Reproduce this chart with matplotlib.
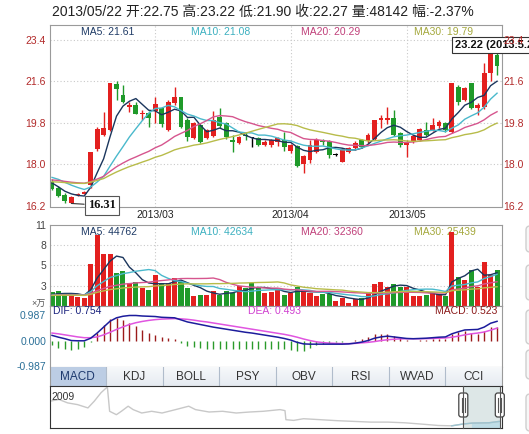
import matplotlib
matplotlib.use("Agg")
import matplotlib.pyplot as plt
from matplotlib.patches import FancyBboxPatch, Rectangle
from matplotlib.lines import Line2D
import numpy as np
import pandas as pd

plt.rcParams['font.family'] = ['Liberation Sans', 'Noto Sans CJK SC', 'DejaVu Sans']
plt.rcParams['axes.unicode_minus'] = False

# ---------------- data ----------------
last_date = "2013/05/22"
opens = [17.25, 16.97, 16.68, 16.35, 16.68, 16.74, 17.10, 18.66, 19.30, 19.50,
         21.50, 21.00, 20.51, 20.57, 20.18, 20.25, 20.30, 20.44, 19.50, 20.66,
         20.92, 19.93, 19.14, 19.71, 19.14, 19.25, 20.07, 19.79, 19.06, 18.95,
         19.30, 19.14, 19.14, 18.85, 18.85, 18.99, 19.06, 18.60, 18.80, 18.00,
         18.20, 18.55, 19.00, 19.00, 18.42, 18.12, 18.55, 18.70, 19.05, 19.00,
         19.10, 19.93, 19.93, 20.00, 19.35, 18.85, 19.00, 19.08, 19.50, 19.50,
         19.65, 19.80, 19.42, 21.37, 20.80, 21.52, 20.44, 20.50, 21.98, 22.75]
highs = [17.35, 17.05, 16.75, 16.62, 16.76, 16.84, 18.55, 19.62, 20.26, 21.55,
         21.60, 21.45, 20.73, 20.70, 20.38, 20.30, 20.94, 20.50, 20.80, 21.38,
         20.94, 20.00, 19.85, 19.75, 19.55, 20.30, 20.45, 19.83, 19.28, 19.25,
         19.42, 19.20, 19.20, 19.05, 19.10, 19.20, 19.42, 18.90, 18.85, 18.40,
         19.06, 19.15, 19.10, 19.05, 18.50, 18.72, 18.75, 19.00, 19.10, 19.35,
         19.95, 20.15, 20.49, 20.36, 19.40, 19.05, 19.30, 19.60, 19.86, 20.00,
         19.93, 19.85, 21.55, 21.45, 21.35, 21.55, 20.65, 22.40, 22.95, 23.22]
lows = [16.90, 16.60, 16.33, 16.31, 16.65, 16.72, 17.00, 18.60, 19.22, 19.45,
        20.80, 20.65, 20.29, 20.18, 19.93, 19.62, 19.80, 19.62, 19.45, 20.60,
        19.60, 19.03, 19.10, 18.95, 19.10, 19.20, 19.60, 19.10, 18.55, 18.88,
        19.06, 18.77, 18.80, 18.80, 18.75, 18.80, 18.60, 18.50, 17.90, 17.62,
        18.05, 18.50, 18.85, 18.27, 18.35, 18.10, 18.50, 18.62, 18.72, 18.95,
        19.05, 19.60, 19.75, 19.25, 18.75, 18.34, 18.95, 19.00, 19.25, 19.45,
        19.60, 19.40, 19.35, 20.60, 20.75, 20.40, 20.15, 20.40, 21.60, 21.90]
closes = [16.94, 16.65, 16.40, 16.58, 16.73, 16.80, 18.55, 19.55, 19.60, 21.52,
          21.27, 20.73, 20.60, 20.18, 20.25, 20.00, 20.61, 19.74, 20.72, 20.92,
          19.62, 19.20, 19.79, 18.99, 19.50, 19.95, 19.68, 19.20, 18.99, 19.20,
          19.25, 19.14, 18.85, 18.99, 19.06, 19.14, 18.77, 18.85, 17.95, 18.37,
          18.85, 19.06, 18.97, 18.41, 18.42, 18.68, 18.70, 18.95, 18.77, 19.28,
          19.93, 20.02, 20.00, 19.28, 18.85, 18.99, 19.25, 19.52, 19.30, 19.72,
          19.83, 19.50, 21.52, 20.72, 21.30, 20.44, 20.56, 21.98, 22.81, 22.27]
volumes_wan = [1.90, 2.04, 1.59, 1.32, 1.22, 1.00, 5.67, 9.62, 7.03, 7.03,
               4.40, 4.72, 3.05, 3.18, 2.36, 2.14, 4.18, 3.13, 3.05, 3.81,
               3.27, 2.36, 1.36, 1.46, 1.46, 2.04, 1.46, 2.04, 1.77, 2.68,
               2.45, 3.05, 2.45, 1.77, 1.90, 2.14, 1.46, 1.69, 2.59, 2.00,
               1.77, 1.36, 1.59, 1.55, 0.64, 1.09, 0.41, 0.91, 1.09, 1.82,
               2.91, 3.18, 2.50, 2.91, 2.50, 2.59, 1.36, 1.36, 1.46, 1.69,
               1.59, 1.36, 10.07, 3.86, 3.50, 4.86, 2.59, 5.95, 4.18, 4.81]
# closes / volumes just before the visible window, estimated from the MA levels at the left edge
pre_closes = [17.0, 17.1, 17.2, 17.05, 16.95, 17.0, 17.15, 17.2, 17.1, 17.15,
              17.1, 17.2, 17.3, 17.25, 17.15, 17.2, 17.3, 17.25, 17.2, 17.25,
              17.5, 17.7, 17.8, 17.75, 17.65, 17.5, 17.35, 17.15, 17.06]
pre_volumes_wan = [1.4, 1.2, 1.5, 1.3, 1.6, 1.4, 1.2, 1.3, 1.5, 1.4,
                   1.3, 1.2, 1.4, 1.5, 1.3, 1.2, 1.4, 1.3, 1.5, 1.4,
                   1.6, 1.5, 1.3, 1.4, 1.2, 1.5, 1.4, 1.3, 1.5]
ma_periods = [5, 10, 20, 30]
price_ma_last = [21.61, 21.08, 20.29, 19.79]
volume_ma_last = [44762, 42634, 32360, 25439]
last_volume = 48142
change_pct = -2.37
dif = [0.21, 0.14, 0.08, 0.01, 0.00, 0.00, 0.10, 0.30, 0.53, 0.76,
       0.89, 0.95, 0.98, 0.98, 0.96, 0.95, 0.94, 0.91, 0.90, 0.89,
       0.81, 0.73, 0.68, 0.63, 0.58, 0.53, 0.49, 0.45, 0.41, 0.37,
       0.33, 0.30, 0.26, 0.22, 0.18, 0.14, 0.09, 0.03, -0.06, -0.12,
       -0.13, -0.13, -0.13, -0.13, -0.13, -0.13, -0.12, -0.09, -0.05, 0.01,
       0.10, 0.15, 0.18, 0.15, 0.12, 0.09, 0.08, 0.09, 0.10, 0.12,
       0.14, 0.15, 0.27, 0.35, 0.42, 0.43, 0.44, 0.53, 0.68, 0.754]
dea = [0.30, 0.27, 0.23, 0.19, 0.15, 0.12, 0.12, 0.15, 0.23, 0.33,
       0.44, 0.54, 0.63, 0.70, 0.75, 0.79, 0.82, 0.84, 0.85, 0.86,
       0.85, 0.83, 0.80, 0.76, 0.73, 0.69, 0.65, 0.61, 0.57, 0.53,
       0.49, 0.45, 0.41, 0.37, 0.33, 0.29, 0.25, 0.20, 0.14, 0.07,
       0.01, -0.04, -0.07, -0.09, -0.10, -0.11, -0.11, -0.10, -0.08, -0.06,
       -0.03, 0.01, 0.04, 0.06, 0.075, 0.08, 0.08, 0.08, 0.085, 0.09,
       0.10, 0.11, 0.14, 0.18, 0.23, 0.27, 0.30, 0.34, 0.41, 0.493]
macd_last = 0.523
month_labels = ["2013/03", "2013/04", "2013/05"]
month_first_index = [16, 37, 55]
price_ticks = [16.2, 18.0, 19.8, 21.6, 23.4]
volume_axis_max = 10.98
macd_tick = 0.987
indicator_tabs = ["MACD", "KDJ", "BOLL", "PSY", "OBV", "RSI", "WVAD", "CCI"]
nav_start_label = "2009"
nav_t = [0.001, 0.021, 0.040, 0.062, 0.085, 0.099, 0.114, 0.122, 0.128, 0.131,
         0.133, 0.148, 0.159, 0.174, 0.185, 0.204, 0.226, 0.249, 0.279, 0.308,
         0.323, 0.353, 0.383, 0.413, 0.443, 0.473, 0.510, 0.521, 0.523, 0.540,
         0.562, 0.599, 0.637, 0.674, 0.711, 0.749, 0.786, 0.823, 0.860, 0.890,
         0.914, 0.935, 0.972, 0.995]
nav_level = [63.8, 67.9, 59.8, 55.7, 47.8, 63.8, 84.0, 91.9, 97.6, 63.8,
             39.8, 31.7, 39.8, 51.9, 43.8, 35.7, 39.8, 35.7, 43.8, 51.9,
             43.8, 38.1, 39.8, 35.7, 38.1, 39.8, 43.8, 41.4, 19.8, 18.1,
             22.1, 19.8, 17.4, 15.7, 14.0, 14.0, 12.4, 9.3, 6.0, 5.2,
             9.3, 11.7, 12.4, 15.7]

# ---------------- style ----------------
RED = '#e3201f'
GREEN = '#1f9a2a'
MA_COLORS = ['#1b365d', '#4ab9cc', '#d6558e', '#b8bc4a']
MA_TEXT = ['#1f3b66', '#3cb0c0', '#c0407a', '#a4a83c']
GRID = dict(color='#c9c9c9', lw=0.8, ls=(0, (1, 2)))
SPINE = '#9a9a9a'

W, H = 529, 434
fig = plt.figure(figsize=(W / 100, H / 100), dpi=100)


def rect(x0, y0, x1, y1):
    return [x0 / W, 1 - y1 / H, (x1 - x0) / W, (y1 - y0) / H]


L, R = 49.5, 501.5
ax = fig.add_axes(rect(L, 25, R, 206.5))
axv = fig.add_axes(rect(L, 225, R, 305.7))
axm = fig.add_axes(rect(L, 305.7, R, 366.5))
axt = fig.add_axes(rect(L, 366.5, R, 386))
axn = fig.add_axes(rect(L, 386, R, 428))

n = len(closes)
idx = np.arange(n)
o = np.array(opens); c = np.array(closes); h = np.array(highs); lo = np.array(lows)
xlim = (-0.39, n - 0.31)

candle_colors = [RED if cc > oo else (GREEN if cc < oo else 'black') for oo, cc in zip(o, c)]
prev_close = np.concatenate([[pre_closes[-1]], c[:-1]])
vol_colors = []
for oo, cc, pc in zip(o, c, prev_close):
    if cc > oo:
        vol_colors.append(RED)
    elif cc < oo:
        vol_colors.append(GREEN)
    else:
        vol_colors.append(RED if cc >= pc else GREEN)

# ---------------- main price chart ----------------
ax.set_xlim(*xlim)
ax.set_ylim(16.2 - 0.5 / 23.06, 23.4 + 15 / 23.06)
for t in price_ticks[1:]:
    ax.axhline(t, zorder=0.5, **GRID)
for m in month_first_index:
    ax.axvline(m, zorder=0.5, **GRID)
ax.vlines(idx, lo, h, colors=candle_colors, lw=1, zorder=2)
ax.bar(idx, np.maximum(np.abs(c - o), 0.045), bottom=np.minimum(o, c), width=0.75,
       color=candle_colors, lw=0, zorder=2.1)
all_c = pd.Series(pre_closes + closes)
for p, col in zip(ma_periods, MA_COLORS):
    ma = all_c.rolling(p).mean().iloc[len(pre_closes):].to_numpy()
    ax.plot(idx, ma, color=col, lw=1, zorder=3)
ma_label_x = [0.07, 0.313, 0.557, 0.806]
for k, (p, v) in enumerate(zip(ma_periods, price_ma_last)):
    ax.text(ma_label_x[k], 0.961, f"MA{p}: {v:.2f}", transform=ax.transAxes,
            fontsize=7.5, color=MA_TEXT[k], va='center', ha='left')
ax.set_yticks(price_ticks)
ax.set_yticklabels([f"{t:.1f}" for t in price_ticks])
ax.tick_params(axis='y', length=0, labelsize=7.5, labelcolor='#b22a2a', pad=2.5)
ax.set_xticks(month_first_index)
ax.set_xticklabels(month_labels)
ax.tick_params(axis='x', length=0, labelsize=7.5, labelcolor='#222222', pad=2.5)
for s in ax.spines.values():
    s.set_color(SPINE)

# low annotation
imin = int(np.argmin(lo))
ax.annotate(f"{lo[imin]:.2f}", xy=(imin, lo[imin]), xytext=(12, -1.3), textcoords='offset points',
            ha='left', va='center', fontsize=9, fontweight='bold', family='Liberation Serif',
            color='#111111', annotation_clip=False, zorder=4,
            bbox=dict(boxstyle='square,pad=0.28', fc='white', ec='#555555', lw=0.8),
            arrowprops=dict(arrowstyle='-', color='#333333', lw=0.8, shrinkA=0, shrinkB=0))
# high annotation (sits under the right-hand tick labels)
imax = int(np.argmax(h))
y_, m_, d_ = last_date.split('/')
ax.annotate(f"{h[imax]:.2f} ({y_}.{int(m_)}.{int(d_)})", xy=(imax, h[imax]), xytext=(-30.5, -0.5),
            textcoords='offset points', ha='left', va='center', fontsize=8, fontweight='bold',
            color='#111111', annotation_clip=False, zorder=4,
            bbox=dict(boxstyle='square,pad=0.25', fc='white', ec='#333333', lw=0.8))

# right-hand tick labels on top of everything in the main axes
ax2 = ax.twinx()
ax2.set_ylim(ax.get_ylim())
ax2.set_yticks(price_ticks)
ax2.set_yticklabels([f"{t:.1f}" for t in price_ticks])
ax2.tick_params(axis='y', length=0, labelsize=7.5, labelcolor='#b22a2a', pad=1.2)
for s in ax2.spines.values():
    s.set_visible(False)
ax2.patch.set_visible(False)

# ---------------- volume ----------------
axv.set_xlim(*xlim)
axv.set_ylim(0, volume_axis_max)
vticks = [volume_axis_max * k / 4 for k in range(1, 5)]
for t in vticks[:-1]:
    axv.axhline(t, zorder=0.5, **GRID)
for m in month_first_index:
    axv.axvline(m, zorder=0.5, **GRID)
axv.bar(idx, volumes_wan, width=0.78, color=vol_colors, lw=0, zorder=2)
all_v = pd.Series(pre_volumes_wan + volumes_wan)
for p, col in zip(ma_periods, MA_COLORS):
    ma = all_v.rolling(p).mean().iloc[len(pre_volumes_wan):].to_numpy()
    axv.plot(idx, ma, color=col, lw=1, zorder=3)
for k, (p, v) in enumerate(zip(ma_periods, volume_ma_last)):
    axv.text(ma_label_x[k], 0.913, f"MA{p}: {v}", transform=axv.transAxes,
             fontsize=7.5, color=MA_TEXT[k], va='center', ha='left', zorder=1)
axv.set_yticks(vticks)
axv.set_yticklabels([f"{round(t)}" for t in vticks])
axv.tick_params(axis='y', length=0, labelsize=7.5, labelcolor='#444444', pad=2.5)
axv.set_xticks([])
for s in axv.spines.values():
    s.set_color(SPINE)
fig.text(38 / W, 1 - 304 / H, "×万", fontsize=6.5, color='#555555', ha='center', va='center')

# ---------------- MACD ----------------
dif_a = np.array(dif); dea_a = np.array(dea)
macd_bar = 2 * (dif_a - dea_a)   # MACD bar = 2 x (DIF - DEA)
axm.set_xlim(*xlim)
axm.set_ylim(-0.995, 1.359)
axm.vlines(idx, 0, macd_bar, colors=['#9b1b1b' if v >= 0 else '#2a9a2a' for v in macd_bar],
           lw=1, zorder=2)
axm.plot(idx, dea_a, color='#e055e0', lw=1.1, zorder=3)
axm.plot(idx, dif_a, color='#1c1c9c', lw=1.1, zorder=3)
axm.text(0.008, 0.905, f"DIF: {dif[-1]:.3f}", transform=axm.transAxes, fontsize=7.5,
         color='#1a237e', va='center', ha='left')
axm.text(0.44, 0.905, f"DEA: {dea[-1]:.3f}", transform=axm.transAxes, fontsize=7.5,
         color='#d040d0', va='center', ha='left')
axm.text(0.99, 0.905, f"MACD: {macd_last:.3f}", transform=axm.transAxes, fontsize=7.5,
         color='#8b1a1a', va='center', ha='right')
axm.set_yticks([macd_tick, 0, -macd_tick])
axm.set_yticklabels([f"{macd_tick:.3f}", "0.000", f"-{macd_tick:.3f}"])
axm.tick_params(axis='y', length=0, labelsize=7.5, labelcolor='#2a6f97', pad=2.5)
axm.set_xticks([])
for s in axm.spines.values():
    s.set_color(SPINE)

# ---------------- indicator tabs ----------------
nt = len(indicator_tabs)
axt.set_xlim(0, nt)
axt.set_ylim(0, 1)
grad = np.linspace(0, 1, 20).reshape(-1, 1)
axt.imshow(grad, extent=(0, nt, 0, 1), aspect='auto', origin='upper',
           cmap=matplotlib.colors.LinearSegmentedColormap.from_list('t', ['#f7f9fb', '#e6ebf1']), zorder=0)
axt.add_patch(Rectangle((0, 0), 1, 1, fc='#bccde4', ec='none', zorder=1))
for k, name in enumerate(indicator_tabs):
    if k > 0:
        axt.plot([k, k], [0.05, 0.95], color='#b0bccb', lw=0.8, zorder=2)
    axt.text(k + 0.5, 0.47, name, ha='center', va='center', fontsize=8.5,
             color='#1e3a6e' if k == 0 else '#333333', zorder=3)
axt.set_xticks([]); axt.set_yticks([])
for s in axt.spines.values():
    s.set_visible(False)
axt.spines['left'].set_visible(True); axt.spines['left'].set_color(SPINE)
axt.spines['right'].set_visible(True); axt.spines['right'].set_color(SPINE)

# ---------------- navigator ----------------
axn.set_xlim(0, 1)
axn.set_ylim(0, 100)
sel0 = (463.3 - L) / (R - L)
sel1 = (499.5 - L) / (R - L)
axn.axvspan(sel0, sel1, color='#dde7e7', zorder=0.5)
nt_a = np.array(nav_t); nl_a = np.array(nav_level)
inside = nt_a >= sel0 - 0.03
axn.fill_between(nt_a[inside], 0, nl_a[inside], where=nt_a[inside] >= sel0, color='#bfdde6', zorder=0.6)
axn.plot(nt_a, nl_a, color='#c8c8c8', lw=1, zorder=1)
axn.plot(nt_a[inside], nl_a[inside], color='#9cc3cf', lw=1, zorder=1.1)
axn.text(0.004, 0.74, nav_start_label, transform=axn.transAxes, fontsize=7.5, color='#333333',
         va='center', ha='left')
axn.set_xticks([]); axn.set_yticks([])
for s in axn.spines.values():
    s.set_color('#333333')

# handles (drawn in pixel units)
for xc in (463.3, 499.8):
    fig.add_artist(Line2D([xc / 100, xc / 100], [(H - 386) / 100, (H - 428) / 100],
                          transform=fig.dpi_scale_trans, color='#555555', lw=0.8))
    fig.add_artist(FancyBboxPatch(((xc - 4.5) / 100, (H - 417) / 100), 9 / 100, 24 / 100,
                                  boxstyle='round,pad=0,rounding_size=0.025',
                                  transform=fig.dpi_scale_trans, fc='white', ec='#444444', lw=0.9))
    for dx in (-1.5, 1.5):
        fig.add_artist(Line2D([(xc + dx) / 100] * 2, [(H - 398) / 100, (H - 412) / 100],
                              transform=fig.dpi_scale_trans, color='#555555', lw=0.8))

# clipped controls at the right edge of the page
for y0, y1 in [(226, 252), (265, 300), (310, 344), (350, 379), (394, 431)]:
    fig.add_artist(FancyBboxPatch((526 / 100, (H - y1) / 100), 20 / 100, (y1 - y0) / 100,
                                  boxstyle='round,pad=0,rounding_size=0.04',
                                  transform=fig.dpi_scale_trans, fc='#f7f7f7', ec='#cfcfcf', lw=1))

# ---------------- header ----------------
title = (f"{last_date} 开:{opens[-1]:.2f} 高:{highs[-1]:.2f} 低:{lows[-1]:.2f} "
         f"收:{closes[-1]:.2f} 量:{last_volume} 幅:{change_pct:.2f}%")
fig.text(52 / W, 1 - 12 / H, title, fontsize=10, color='#222222', va='center', ha='left')

fig.savefig("out.png", dpi=100)
